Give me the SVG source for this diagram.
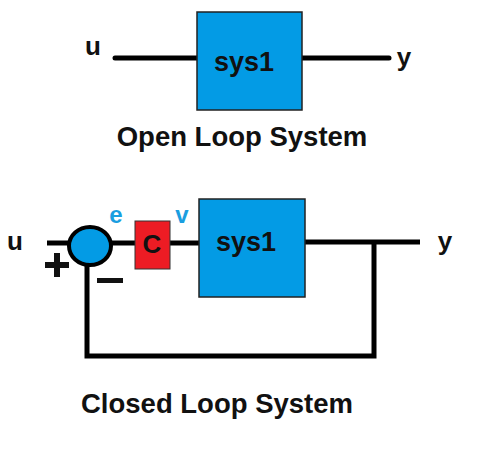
<svg xmlns="http://www.w3.org/2000/svg" width="491" height="451" viewBox="0 0 491 451">
<style>
.t{font-family:"Liberation Sans",Arial,sans-serif;font-weight:bold;fill:#111}
.b{font-family:"Liberation Sans",Arial,sans-serif;font-weight:bold;fill:#1a9ee0}
.w{stroke:#000;stroke-width:5;fill:none;stroke-linecap:round}
.blk{fill:#039be5;stroke:#222;stroke-width:1.5}
</style>
<rect width="491" height="451" fill="#fff"/>
<g id="connectors">
<line class="w" x1="115" y1="58" x2="197" y2="58"/>
<line class="w" x1="302" y1="58" x2="389" y2="58"/>
<line class="w" x1="47" y1="243" x2="69" y2="243" style="stroke-linecap:butt"/>
<line class="w" x1="112" y1="243" x2="135" y2="243" style="stroke-linecap:butt"/>
<line class="w" x1="170" y1="243" x2="200" y2="243"/>
<line class="w" x1="304" y1="242" x2="420" y2="242" style="stroke-linecap:butt"/>
<polyline class="w" points="374,242 374,356 87,356 87,266" style="stroke-linecap:butt"/>
</g>
<g id="open_sys1">
<rect class="blk" x="197" y="12" width="105" height="98"/>
<text class="t" x="244" y="71" font-size="27" text-anchor="middle">sys1</text>
</g>
<text class="t" x="93" y="55" font-size="26" text-anchor="middle">u</text>
<text class="t" x="404" y="66" font-size="26" text-anchor="middle">y</text>
<text class="t" x="242" y="146" font-size="27.5" text-anchor="middle">Open Loop System</text>
<g id="sum">
<ellipse cx="90" cy="246" rx="21" ry="19" fill="#039be5" stroke="#000" stroke-width="4"/>
</g>
<g id="C">
<rect x="135" y="221" width="35" height="48" fill="#ed1c24" stroke="#333" stroke-width="1"/>
<text class="t" x="152" y="253" font-size="26" text-anchor="middle">C</text>
</g>
<g id="closed_sys1">
<rect class="blk" x="199" y="199" width="106" height="98"/>
<text class="t" x="246" y="251" font-size="27" text-anchor="middle">sys1</text>
</g>
<text class="t" x="15" y="250" font-size="26" text-anchor="middle">u</text>
<text class="t" x="445" y="250" font-size="26" text-anchor="middle">y</text>
<text class="b" x="116" y="223" font-size="24" text-anchor="middle">e</text>
<text class="b" x="182" y="223" font-size="24" text-anchor="middle">v</text>
<rect x="45" y="262" width="24" height="6" fill="#111"/>
<rect x="54" y="253" width="6" height="24" fill="#111"/>
<rect x="97" y="278" width="26" height="5" fill="#111"/>
<text class="t" x="217" y="413" font-size="27.5" text-anchor="middle">Closed Loop System</text>
</svg>
